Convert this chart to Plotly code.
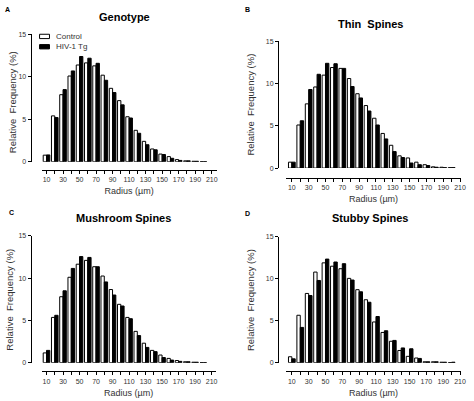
# spine radius frequency distributions, control vs HIV-1 Tg, four panels

import plotly.graph_objs as go

W, H = 474, 401

radius = [10, 20, 30, 40, 50, 60, 70, 80, 90, 100, 110, 120, 130, 140, 150, 160, 170, 180, 190, 200]

# A - genotype
geno_ctrl = [0.77, 5.4, 7.9, 10.1, 11.4, 11.65, 11.3, 10.2, 8.65, 7.2, 5.3, 3.7, 2.4, 1.5, 0.9, 0.6, 0.25, 0.1, 0.05, 0]
geno_hiv = [0.8, 5.2, 8.5, 10.7, 12.4, 12.2, 11.6, 9.6, 8.15, 6.7, 5.15, 3.35, 2.0, 1.4, 0.85, 0.4, 0.15, 0.1, 0.05, 0]
# B - thin spines
thin_ctrl = [0.7, 5.1, 7.6, 9.6, 11.0, 11.9, 11.8, 10.6, 8.8, 7.4, 5.9, 4.1, 2.7, 1.45, 1.2, 0.7, 0.4, 0.15, 0.1, 0.05]
thin_hiv = [0.7, 5.6, 9.3, 11.1, 12.4, 12.35, 11.8, 9.65, 8.3, 6.75, 5.1, 3.45, 1.95, 1.25, 0.6, 0.4, 0.3, 0.1, 0.05, 0.05]
# C - mushroom spines
mush_ctrl = [1.15, 5.35, 7.8, 10.1, 11.65, 12.1, 11.35, 10.25, 8.65, 6.9, 5.35, 3.7, 2.3, 1.45, 0.9, 0.5, 0.25, 0.1, 0.05, 0]
mush_hiv = [1.45, 5.6, 8.5, 11.15, 12.55, 12.45, 11.35, 9.55, 8.0, 6.7, 5.2, 3.2, 1.8, 1.3, 0.6, 0.3, 0.15, 0.1, 0.05, 0]
# D - stubby spines
stub_ctrl = [0.7, 5.65, 8.25, 10.8, 11.9, 11.5, 11.2, 10.05, 8.7, 7.5, 4.85, 3.6, 2.55, 1.45, 0.75, 0.55, 0.1, 0.1, 0.05, 0]
stub_hiv = [0.45, 4.2, 8.0, 9.8, 12.35, 12.0, 11.8, 9.85, 8.45, 7.2, 5.5, 3.8, 2.65, 1.75, 1.65, 0.5, 0.1, 0.1, 0.05, 0.05]

titles = ['Genotype', 'Thin  Spines', 'Mushroom Spines', 'Stubby Spines']
letters = ['A', 'B', 'C', 'D']
series = [(geno_ctrl, geno_hiv), (thin_ctrl, thin_hiv), (mush_ctrl, mush_hiv), (stub_ctrl, stub_hiv)]

# panel geometry in pixels: x-domain, x range, y at 15, y at 0, x line y, y line x,
# title centre, letter pos, y-title centre
panels = [
    dict(xd=(42, 219), xr=(4, 216), y15=31, y0=160.5, xl=169, yl=31, tc=(126, 13), lc=(8, 6), yt=(12, 100)),
    dict(xd=(289, 466), xr=(3, 211.2), y15=38, y0=167, xl=177, yl=281, tc=(374, 20), lc=(250, 6), yt=(253, 102)),
    dict(xd=(42, 218), xr=(4, 215), y15=236, y0=365, xl=374, yl=31, tc=(125, 218), lc=(12, 212), yt=(10, 301)),
    dict(xd=(289, 466), xr=(3, 211.2), y15=237, y0=365, xl=374, yl=281, tc=(374, 218), lc=(250, 213), yt=(253, 301)),
]

def px(x):
    return x / float(W)

def py(y):
    return 1 - y / float(H)

FONT = 'Liberation Sans, Arial, sans-serif'
TXT = '#333333'

fig = go.Figure()
layout = dict(width=W, height=H, margin=dict(l=0, r=0, t=0, b=0),
              paper_bgcolor='white', plot_bgcolor='white',
              font=dict(family=FONT, color=TXT),
              barmode='group', bargap=0.2, bargroupgap=0,
              showlegend=False)
annotations = []
shapes = []

for i, p in enumerate(panels):
    n = '' if i == 0 else str(i + 1)
    ctrl, hiv = series[i]
    fig.add_trace(go.Bar(x=radius, y=ctrl, name='Control', xaxis='x' + n, yaxis='y' + n,
                         marker=dict(color='white', line=dict(color='black', width=1))))
    fig.add_trace(go.Bar(x=radius, y=hiv, name='HIV-1 Tg', xaxis='x' + n, yaxis='y' + n,
                         marker=dict(color='black', line=dict(color='black', width=1))))
    layout['xaxis' + n] = dict(
        domain=[px(p['xd'][0]), px(p['xd'][1])], range=list(p['xr']),
        anchor='free', position=py(p['xl']), showline=True, linecolor='black', linewidth=1,
        showgrid=False, zeroline=False, tick0=10, dtick=20, ticks='outside', ticklen=3,
        tickcolor='black', tickfont=dict(size=7, color=TXT),
        minor=dict(tick0=10, dtick=10, ticks='outside', ticklen=3, tickcolor='black', showgrid=False),
        title=dict(text='Radius (\u00b5m)', font=dict(size=9, color=TXT), standoff=5))
    layout['yaxis' + n] = dict(
        domain=[py(p['y0']), py(p['y15'])], range=[0, 15],
        anchor='free', position=px(p['yl']), showline=True, linecolor='black', linewidth=1,
        showgrid=False, zeroline=False, tickvals=[0, 5, 10, 15], ticks='outside', ticklen=3,
        tickcolor='black', tickfont=dict(size=7, color=TXT))
    annotations.append(dict(text='Relative  Frequency (%)', x=px(p['yt'][0]), y=py(p['yt'][1]),
                            xref='paper', yref='paper', xanchor='center', yanchor='middle',
                            textangle=-90, showarrow=False, font=dict(size=9.5, color=TXT)))
    annotations.append(dict(text='<b>' + titles[i] + '</b>', x=px(p['tc'][0]), y=py(p['tc'][1]),
                            xref='paper', yref='paper', xanchor='center', yanchor='middle',
                            showarrow=False, font=dict(size=11, color='black')))
    annotations.append(dict(text='<b>' + letters[i] + '</b>', x=px(p['lc'][0]), y=py(p['lc'][1]),
                            xref='paper', yref='paper', xanchor='center', yanchor='middle',
                            showarrow=False, font=dict(size=7, color='black')))

# legend drawn by hand in panel A
for lab, col, yy in [('Control', 'white', 33), ('HIV-1 Tg', 'black', 43.5)]:
    shapes.append(dict(type='rect', xref='paper', yref='paper',
                       x0=px(40), x1=px(50), y0=py(yy + 2.2), y1=py(yy - 2.2),
                       fillcolor=col, line=dict(color='black', width=1)))
    annotations.append(dict(text=lab, x=px(55), y=py(yy), xref='paper', yref='paper',
                            xanchor='left', yanchor='middle', showarrow=False,
                            font=dict(size=8, color=TXT)))

layout['annotations'] = annotations
layout['shapes'] = shapes
fig.update_layout(**layout)
fig.write_html('out.html', config={'displayModeBar': False},
               post_script="document.body.style.margin='0';")
